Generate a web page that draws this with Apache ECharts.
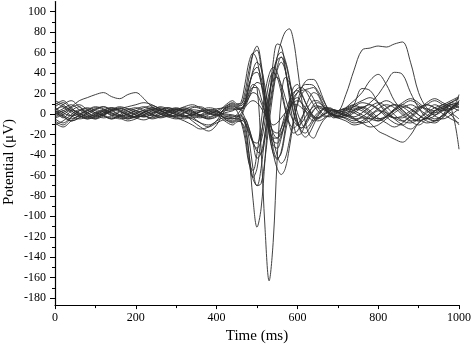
<!DOCTYPE html>
<html>
<head>
<meta charset="utf-8">
<script src="https://cdn.jsdelivr.net/npm/echarts@6/dist/echarts.min.js"></script>
<style>
  html, body { margin: 0; padding: 0; background: #fff; }
  #chart { width: 474px; height: 349px; }
</style>
</head>
<body>
<div id="chart"></div>
<script>
// Sample times (ms): coarser before and after the evoked response, finer through it
const timeMs = [0,20,40,60,80,100,120,140,160,180,200,220,240,260,280,300,320,340,360,380,400,420,440,
  450,460,470,480,490,500,510,520,530,540,550,560,570,580,590,600,610,620,630,640,650,660,670,680,690,700,
  720,740,760,780,800,820,840,860,880,900,920,940,960,980,1000];

// Recorded potentials (µV), one sweep per array, aligned with timeMs
const sweep01 = [3,-5,2,6,-2,-6,0,4,2,-3,-5,1,5,3,-2,-4,0,5,6,2,-1,-5,-6,
  -4,-1,8,20,28,25,-35,-115,-166,-128,-45,15,35,30,15,0,-10,-15,-12,-5,0,3,5,4,2,0,
  -3,2,5,0,-6,-4,3,8,4,-2,-6,-3,4,8,10];
const sweep02 = [-8,-12,-5,2,4,0,-3,-6,-2,3,5,2,-2,-5,-3,1,4,2,-3,-6,-4,4,6,
  5,3,-5,-15,-30,-45,-40,-20,5,30,55,70,80,83,72,45,15,-10,-22,-25,-18,-10,-5,-2,0,2,
  5,8,5,10,18,30,40,38,20,5,-5,-8,-5,5,10];
const sweep03 = [6,10,4,-2,-6,-3,2,5,3,-1,-4,-2,2,6,4,0,-3,-5,-2,2,4,5,8,
  6,8,15,35,58,66,50,15,-20,-40,-46,-38,-15,10,25,28,20,10,2,-3,-5,-3,0,2,3,2,
  0,-5,-10,-8,-2,5,8,3,-4,-8,-5,2,6,3,12];
const sweep04 = [-4,0,5,8,3,-2,-5,-3,1,4,2,-2,-6,-4,0,3,5,2,-3,-5,-2,-5,-8,
  -6,-7,-10,-40,-85,-113,-95,-45,10,50,68,66,45,15,-10,-22,-20,-10,0,8,10,8,4,0,-2,-3,
  -5,-8,-5,-10,-18,-22,-26,-29,-22,-10,-5,-8,-2,8,5];
const sweep05 = [10,6,0,-4,-2,3,6,2,-2,-5,-3,0,4,2,-1,-4,-6,-3,2,5,3,-6,-10,
  -8,-9,-15,-40,-65,-72,-55,-20,15,40,52,55,42,20,0,-12,-15,-10,-3,3,5,4,2,0,-2,-3,
  2,6,10,8,3,-4,-10,-12,-6,2,8,12,8,4,18];
const sweep06 = [-12,-8,-2,3,0,-4,-2,2,5,2,-2,-4,-1,3,5,1,-2,-8,-14,-18,-12,2,4,
  2,-8,-25,-50,-57,-40,-10,20,38,45,40,25,5,-12,-20,-18,-8,5,15,20,18,10,3,-2,-5,-4,
  -2,3,6,2,-5,-10,-14,-10,-3,4,8,5,-1,-6,-10];
const sweep07 = [0,4,8,3,-2,-5,-2,3,6,4,0,-3,-5,-2,2,4,1,-3,-5,-2,2,6,10,
  8,10,28,50,59,52,30,5,-20,-40,-55,-61,-55,-35,-10,10,24,31,33,33,28,18,8,0,-4,-5,
  -4,0,5,8,4,-2,-5,-3,2,6,4,2,8,5,-36];
const sweep08 = [4,-2,-6,-3,2,5,3,0,-3,-6,-4,0,3,5,2,-2,-4,-2,1,3,2,-4,-4,
  -2,3,10,25,40,45,35,15,-5,-20,-25,-20,-8,5,15,20,22,23,24,25,20,12,5,0,-3,-4,
  5,12,20,32,38,28,12,2,-5,-8,-5,0,5,10,8];
const sweep09 = [-6,-10,-4,2,5,2,-2,-5,-3,1,4,6,3,-1,-4,-2,3,6,4,0,-3,3,5,
  3,4,6,15,25,30,28,15,-10,-35,-45,-40,-20,0,12,15,10,2,-5,-8,-6,-2,2,4,3,1,
  -2,-6,-10,-14,-12,-6,0,5,8,4,-2,-6,-3,3,6];
const sweep10 = [2,8,12,6,0,-3,-1,2,4,6,8,10,8,4,2,3,6,8,5,2,0,7,12,
  9,9,20,42,58,62,45,15,-15,-32,-35,-25,-8,8,18,24,25,22,15,8,2,-2,-4,-3,-1,0,
  2,0,-4,-6,-2,4,8,6,0,-6,-10,-8,-2,4,10];
const sweep11 = [-2,2,-3,-6,-4,0,2,-1,-4,-6,-3,1,3,0,-3,-5,-8,-12,-16,-14,-8,-5,-6,
  -5,-5,-8,-25,-55,-72,-70,-45,-10,20,42,50,42,22,2,-10,-15,-12,-5,2,6,6,3,0,-3,-5,
  -8,-12,-10,-4,2,0,-6,-12,-16,-10,-3,2,4,0,-6];
const sweep12 = [8,12,5,-1,-4,-2,1,-3,-6,-4,0,2,-1,-4,-2,1,3,1,-2,-4,-1,2,3,
  4,4,8,15,20,18,10,0,-10,-18,-20,-15,-5,5,10,12,10,5,0,-5,-8,-7,-4,-1,1,2,
  4,8,12,15,10,2,-5,-8,-4,3,10,14,10,6,2];
const sweep13 = [0,-4,-8,-5,0,3,1,-2,-5,-8,-6,-2,1,-1,-4,-6,-4,0,2,0,-2,-8,-12,
  -9,-8,-6,-15,-28,-38,-40,-25,0,25,45,55,50,32,10,-8,-18,-20,-15,-8,-2,2,4,3,1,0,
  -3,-6,-4,2,8,12,8,0,-8,-12,-6,2,6,10,14];
const sweep14 = [-10,-14,-8,-2,3,6,4,0,-3,-2,2,5,7,4,1,-2,-4,-6,-10,-12,-8,5,9,
  7,7,12,28,38,40,30,10,-12,-28,-30,-22,-10,2,12,20,25,28,28,27,22,15,8,2,-2,-4,
  -2,8,24,22,10,0,-5,-5,0,5,8,5,2,5,12];
const sweep15 = [5,0,-3,-1,2,0,-3,-6,-4,-1,2,0,-3,-2,1,4,2,-1,-3,-1,1,-2,-3,
  -4,-3,-10,-20,-28,-30,-20,0,20,33,35,28,15,2,-8,-12,-10,-4,2,6,7,5,2,0,-2,-2,
  0,4,2,-3,-8,-4,3,8,12,8,2,-2,2,8,6];
const sweep16 = [-3,2,6,12,15,18,20,16,14,18,20,14,6,2,0,2,3,0,-2,0,2,-3,-5,
  -6,-4,5,10,12,10,5,-2,-8,-12,-10,-5,0,5,8,8,5,2,-2,-5,-5,-3,-1,1,2,2,
  4,2,-2,-6,-8,-4,2,6,4,-2,-8,-10,-4,4,8];
const sweep17 = [2,-3,-8,-5,0,4,6,3,-2,-4,-1,3,5,2,-2,-3,0,3,2,-1,-2,4,7,
  5,5,8,18,25,25,15,0,-15,-25,-25,-15,0,12,20,22,18,10,2,-4,-6,-4,0,2,3,2,
  18,42,62,64,66,65,68,70,50,20,5,0,3,10,15];
const sweep18 = [12,8,2,-3,-6,-4,0,3,1,-2,-5,-7,-4,0,3,5,2,-4,-10,-14,-10,-7,-9,
  -7,-8,-20,-48,-64,-55,-25,5,30,40,35,20,3,-10,-15,-12,-5,2,8,12,12,8,3,-1,-3,-3,
  -6,-10,-8,-2,4,8,5,-2,-8,-6,0,5,8,12,16];
const sweep19 = [-5,-2,3,0,-4,-6,-3,2,4,1,-2,-4,-2,2,5,3,0,-2,-4,-6,-3,0,2,
  4,3,10,25,42,50,45,25,0,-25,-42,-50,-45,-28,-8,8,18,22,20,14,6,0,-3,-4,-2,0,
  3,6,4,-2,-6,-3,4,10,14,10,3,-3,-6,-2,4];
const sweep20 = [3,6,2,-3,-5,-1,3,5,2,-2,-4,-3,0,3,2,-1,-3,-2,1,3,1,-1,-2,
  -3,-2,-8,-18,-30,-35,-28,-8,15,38,55,60,52,35,12,-8,-20,-24,-20,-12,-4,2,5,5,3,1,
  -2,-4,0,6,10,6,-2,-8,-10,-6,2,8,4,-2,-12];

const sweeps = [sweep01, sweep02, sweep03, sweep04, sweep05, sweep06, sweep07, sweep08, sweep09, sweep10,
  sweep11, sweep12, sweep13, sweep14, sweep15, sweep16, sweep17, sweep18, sweep19, sweep20];

// Axis ranges and labelled ticks
const timeRange = [0, 1000];
const timeTickStep = 200;
const potentialRange = [-190, 110];
const labelledPotentialRange = [-180, 100];
const potentialTickStep = 20;

const serif = '"Liberation Serif", "Times New Roman", serif';

// Plot frame (pixels)
const plotLeft = 55, plotRight = 11.3, plotTop = 1.5, plotHeight = 306.9;
const pxPerUnit = plotHeight / (potentialRange[1] - potentialRange[0]);
// Tick grid covers only the labelled span so ticks fall on multiples of 20
const tickTop = plotTop + (potentialRange[1] - labelledPotentialRange[1]) * pxPerUnit;
const tickHeight = (labelledPotentialRange[1] - labelledPotentialRange[0]) * pxPerUnit;

const plainNumber = function (v) { return String(v); };

const chart = echarts.init(document.getElementById('chart'), null, { renderer: 'canvas' });

chart.setOption({
  animation: false,
  backgroundColor: '#fff',
  grid: [
    { left: plotLeft, right: plotRight, top: plotTop, height: plotHeight, containLabel: false },
    { left: plotLeft, right: plotRight, top: tickTop, height: tickHeight, containLabel: false }
  ],
  xAxis: [
    {
      gridIndex: 0, type: 'value', min: timeRange[0], max: timeRange[1], interval: timeTickStep,
      name: 'Time (ms)', nameLocation: 'middle', nameGap: 16,
      nameTextStyle: { fontFamily: serif, fontSize: 15, color: '#000' },
      axisLine: { show: true, onZero: false, lineStyle: { color: '#000', width: 1.2 } },
      axisTick: { show: true, inside: false, length: 4, lineStyle: { color: '#000' } },
      minorTick: { show: true, splitNumber: 2, length: 3, lineStyle: { color: '#000' } },
      axisLabel: { fontFamily: serif, fontSize: 12, color: '#000', margin: 7, formatter: plainNumber },
      splitLine: { show: false }
    },
    { gridIndex: 1, type: 'value', min: timeRange[0], max: timeRange[1], show: false }
  ],
  yAxis: [
    {
      gridIndex: 0, type: 'value', min: potentialRange[0], max: potentialRange[1],
      axisLine: { show: true, onZero: false, lineStyle: { color: '#000', width: 1.2 } },
      axisTick: { show: false }, axisLabel: { show: false }, splitLine: { show: false }
    },
    {
      gridIndex: 1, type: 'value', min: labelledPotentialRange[0], max: labelledPotentialRange[1],
      interval: potentialTickStep,
      axisLine: { show: false },
      axisTick: { show: true, inside: false, length: 5, lineStyle: { color: '#000' } },
      minorTick: { show: true, splitNumber: 2, length: 3, lineStyle: { color: '#000' } },
      axisLabel: { fontFamily: serif, fontSize: 12, color: '#000', margin: 9, formatter: plainNumber },
      splitLine: { show: false }
    }
  ],
  graphic: [{
    type: 'text', x: 9, y: 162, rotation: Math.PI / 2,
    style: { text: 'Potential (\u03bcV)', fontFamily: serif, fontSize: 15, fill: '#000',
      align: 'center', verticalAlign: 'middle' }
  }],
  series: sweeps.map(function (values) {
    return {
      type: 'line', xAxisIndex: 0, yAxisIndex: 0,
      data: values.map(function (v, i) { return [timeMs[i], v]; }),
      showSymbol: false, smooth: 0.35, silent: true,
      lineStyle: { color: '#2b2b2b', width: 0.9 }
    };
  })
});
</script>
</body>
</html>
